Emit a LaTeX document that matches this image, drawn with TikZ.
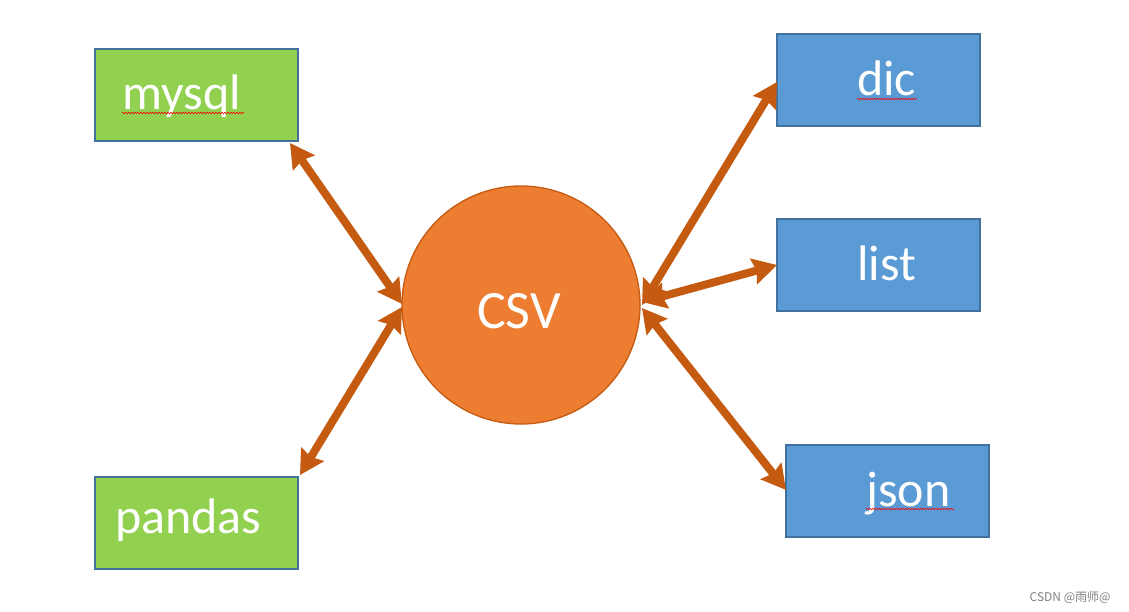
\documentclass[tikz,border=0pt]{standalone}
\usepackage{fontspec}
\setmainfont{Carlito}
\newfontfamily\cjk{Noto Sans CJK SC}
\usetikzlibrary{arrows.meta,decorations.pathmorphing}
\definecolor{grn}{HTML}{92D050}
\definecolor{blu}{HTML}{5B9BD5}
\definecolor{org}{HTML}{ED7D31}
\definecolor{arr}{HTML}{C55A11}
\definecolor{edge}{HTML}{41719C}
\tikzset{
 box/.style={draw=edge,line width=1.3pt,minimum width=203pt,minimum height=92pt,inner sep=0pt},
 lbl/.style={text=white,font=\fontsize{50}{50}\selectfont,anchor=base west,inner sep=0pt},
 link/.style={draw=arr,line width=8pt,{Stealth[length=24pt,width=26pt,inset=3pt]}-{Stealth[length=24pt,width=26pt,inset=3pt]}},
 squig/.style={draw=red,line width=0.6pt,decorate,decoration={snake,amplitude=0.8pt,segment length=3pt}}
}
\begin{document}
\begin{tikzpicture}[x=1pt,y=-1pt]
\useasboundingbox (0,0) rectangle (1129,612);
\fill[white] (0,0) rectangle (1129,612);
\node[box,fill=grn] (mysql) at (196.5,95) {};
\node[box,fill=grn] (pandas) at (196.5,523) {};
\node[box,fill=blu] (dic) at (878.5,80) {};
\node[box,fill=blu] (list) at (878.5,265) {};
\node[box,fill=blu] (json) at (887.5,491) {};
\node[circle,draw=arr,line width=1.3pt,fill=org,minimum size=238pt,inner sep=0pt] (csv) at (521,305) {};
\node[lbl] (tmysql) at (122,110) {mysql};
\node[lbl] (tpandas) at (115,533) {pandas};
\node[lbl] (tdic) at (857,96) {dic};
\node[lbl] (tlist) at (857,280) {list};
\node[lbl] (tjson) at (866,506) {json};
\node[text=white,font=\fontsize{54}{54}\selectfont,anchor=base] (tcsv) at (519,328) {CSV};
\draw[squig] (tmysql.base west)++(0,3) -- ++(122,0);
\draw[squig] (tdic.base west)++(0,3) -- ++(60,0);
\draw[squig] (tjson.base west)++(0,3) -- ++(88,0);
\coordinate (a1) at (290,143); \coordinate (a2) at (402,304);
\coordinate (b1) at (300,475); \coordinate (b2) at (402,307);
\coordinate (c1) at (777,82); \coordinate (c2) at (642,305);
\coordinate (d1) at (777,265); \coordinate (d2) at (642,302);
\coordinate (e1) at (786,490); \coordinate (e2) at (642,308);
\draw[link] (a1) -- (a2);
\draw[link] (b1) -- (b2);
\draw[link] (c1) -- (c2);
\draw[link] (d1) -- (d2);
\draw[link] (e1) -- (e2);
\node[text=gray,font=\cjk\fontsize{12}{12}\selectfont,anchor=east] (wm) at (1114,597) {CSDN @雨师@};
\end{tikzpicture}
\end{document}
